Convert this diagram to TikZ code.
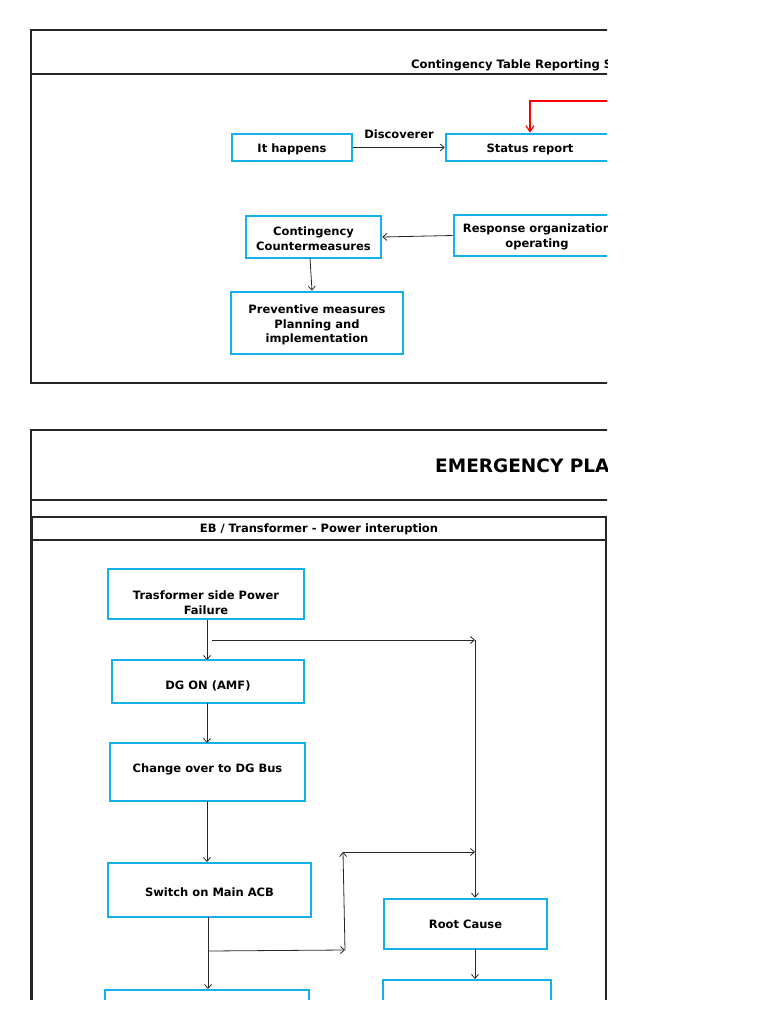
\documentclass[tikz,border=0pt]{standalone}
\usepackage{fontspec}
\setmainfont{DejaVu Sans}
\usetikzlibrary{arrows.meta}
\definecolor{boxblue}{RGB}{20,176,235}
\definecolor{linegray}{RGB}{40,40,40}
\tikzset{
  box/.style={draw=boxblue, line width=2.6pt, inner sep=0pt},
  txt/.style={align=center, inner sep=0pt, font=\fontsize{11.5}{14.8}\selectfont\bfseries},
  arr/.style={draw=linegray, line width=0.8pt, -{Straight Barb[length=4pt,width=7pt]}},
  redarr/.style={draw=red, line width=2pt, -{Straight Barb[length=6pt,width=8pt,line width=1.2pt]}},
  frame/.style={draw=black!85, line width=1.6pt},
}
\begin{document}
\begin{tikzpicture}[x=1pt,y=-1pt]
\fill[white] (0,0) rectangle (768,1024);
\useasboundingbox (0,0) rectangle (768,1024);
\begin{scope}
\clip (0,0) rectangle (607,999);
% ---------- top frame ----------
\draw[frame] (31,30) rectangle (720,383);
\draw[frame] (31,74) -- (720,74);
\node[txt, anchor=base west, font=\fontsize{11.6}{14}\selectfont\bfseries] (hdr) at (411,68.5) {Contingency Table Reporting System};

\node[box, minimum width=120, minimum height=27] (happen) at (292,147.5) {};
\node[txt] (happentxt) at (292,149.5) {It happens};
\node[box, minimum width=168, minimum height=27] (status) at (530,147.5) {};
\node[txt] (statustxt) at (530,149.5) {Status report};
\node[box, minimum width=135, minimum height=42] (counter) at (313.5,237) {};
\node[txt] (countertxt) at (313.5,238.5) {Contingency\\Countermeasures};
\node[box, minimum width=166, minimum height=41] (response) at (537,235.5) {};
\node[txt] (responsetxt) at (537,237) {Response organization\\operating};
\node[box, minimum width=172, minimum height=62] (prevent) at (317,323) {};
\node[txt] (preventtxt) at (317,325) {Preventive measures\\Planning and\\implementation};

\draw[arr] (happen.east) -- node[txt, above=8pt] (disc) {Discoverer} (status.west);
\coordinate (r1) at (640,101);
\draw[redarr] (r1) -| (status.north);
\draw[arr] (response.west) -- (counter.east);
\draw[arr] (310,258) -- (prevent.north -| 312,0);

% ---------- bottom frame ----------
\draw[frame] (31,1010) -- (31,430) -- (720,430);
\draw[frame] (31,500) -- (720,500);
\draw[frame] (32,1010) -- (32,517) -- (606,517) -- (606,1010);
\draw[frame] (32,540) -- (606,540);
\node[txt, anchor=base west, font=\fontsize{18.5}{22}\selectfont\bfseries] (title) at (435,472) {EMERGENCY PLAN};
\node[txt] (sub) at (319,529) {EB / Transformer - Power interuption};

\node[box, minimum width=196, minimum height=50] (trans) at (206,594) {};
\node[txt] (transtxt) at (206,602.5) {Trasformer side Power\\Failure};
\node[box, minimum width=192, minimum height=43] (dg) at (208,681.5) {};
\node[txt] (dgtxt) at (208,685.5) {DG ON (AMF)};
\node[box, minimum width=195, minimum height=58] (change) at (207.5,772) {};
\node[txt] (changetxt) at (207.5,769.5) {Change over to DG Bus};
\node[box, minimum width=203, minimum height=54] (switch) at (209.5,890) {};
\node[txt] (switchtxt) at (209.5,892.5) {Switch on Main ACB};
\node[box, minimum width=163, minimum height=50] (root) at (465.5,924) {};
\node[txt] (roottxt) at (465.5,924.5) {Root Cause};
\node[box, minimum width=204, minimum height=50] (bl) at (207,1015) {};
\node[box, minimum width=168, minimum height=50] (br) at (467,1005) {};

\draw[arr] (trans.south -| 207,0) -- (207,660);
\draw[arr] (207,703) -- (207,743);
\draw[arr] (207,801) -- (207,862);
\draw[arr] (208,917) -- (208,989);
\coordinate (b1) at (212,640);
\coordinate (b2) at (475,640);
\draw[arr] (b1) -- (b2);
\draw[arr] (b2) -- (b2 |- root.north);
\coordinate (b3) at (208,951);
\coordinate (b4) at (345,950);
\coordinate (b5) at (343,852);
\coordinate (b6) at (475,852);
\draw[arr] (b3) -- (b4);
\draw[arr] (b4) -- (b5);
\draw[arr] (b5) -- (b6);
\draw[arr] (475,949) -- (475,979);
\end{scope}
\end{tikzpicture}
\end{document}
